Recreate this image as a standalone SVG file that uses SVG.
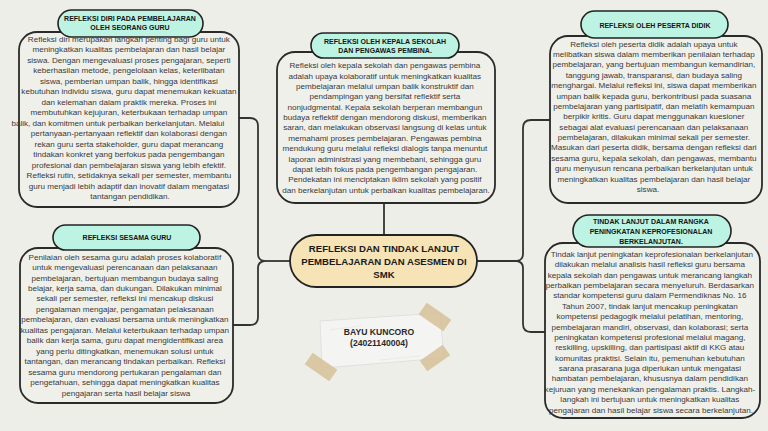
<svg xmlns="http://www.w3.org/2000/svg" width="768" height="431" viewBox="0 0 768 431">
<style>
.bg{fill:#eeeee9}
.box{fill:#f0f0eb;stroke:#2a2a2a;stroke-width:1.8}
.pill{fill:#bdf3e2;stroke:#222;stroke-width:1.6}
.main{fill:#f6e3b6;stroke:#222;stroke-width:1.8}
.conn{fill:none;stroke:#333;stroke-width:1.8;stroke-linejoin:round}
.t{font-family:"Liberation Sans",Arial,sans-serif;font-size:8.1px;fill:#383838;text-anchor:middle}
.h{font-family:"Liberation Sans",Arial,sans-serif;font-size:7px;font-weight:bold;fill:#151515;text-anchor:middle}
.mh{font-family:"Liberation Sans",Arial,sans-serif;font-size:9.6px;font-weight:bold;fill:#1a1a1a;text-anchor:middle}
.nm{font-family:"Liberation Sans",Arial,sans-serif;font-size:8.6px;font-weight:bold;fill:#2a2a2a;text-anchor:middle}
.tape{fill:#d6bf98;opacity:0.85}
</style>
<rect class="bg" x="0" y="0" width="768" height="431"/>

<g id="connectors">
<path class="conn" d="M384 203 V235"/>
<path class="conn" d="M239 118 H250 Q258 118 258 126 V254 Q258 260 264 261 Q258 262 258 268 V317 Q258 325 250 325 H233"/>
<path class="conn" d="M264 261 H290"/>
<path class="conn" d="M550 120 H531 Q523 120 523 128 V254 Q523 260 517 261 Q523 262 523 268 V324 Q523 332 531 332 H545"/>
<path class="conn" d="M477 261 H517"/>
</g>

<g id="node-diri">
<rect class="box" x="19" y="32" width="220" height="175" rx="18"/>
<rect class="pill" x="58" y="10" width="145" height="27" rx="13.5"/>
<text class="h"><tspan x="130" y="20.5">REFLEKSI DIRI PADA PEMBELAJARAN</tspan><tspan x="130" y="30">OLEH SEORANG GURU</tspan></text>
<text class="t">
<tspan x="130" y="42">Refleksi diri merupakan langkah penting bagi guru untuk</tspan>
<tspan x="130" dy="10.47">meningkatkan kualitas pembelajaran dan hasil belajar</tspan>
<tspan x="130" dy="10.47">siswa. Dengan mengevaluasi proses pengajaran, seperti</tspan>
<tspan x="130" dy="10.47">keberhasilan metode, pengelolaan kelas, keterlibatan</tspan>
<tspan x="130" dy="10.47">siswa, pemberian umpan balik, hingga identifikasi</tspan>
<tspan x="130" dy="10.47">kebutuhan individu siswa, guru dapat menemukan kekuatan</tspan>
<tspan x="130" dy="10.47">dan kelemahan dalam praktik mereka. Proses ini</tspan>
<tspan x="130" dy="10.47">membutuhkan kejujuran, keterbukaan terhadap umpan</tspan>
<tspan x="119" dy="10.47">balik, dan komitmen untuk perbaikan berkelanjutan. Melalui</tspan>
<tspan x="130" dy="10.47">pertanyaan-pertanyaan reflektif dan kolaborasi dengan</tspan>
<tspan x="130" dy="10.47">rekan guru serta stakeholder, guru dapat merancang</tspan>
<tspan x="130" dy="10.47">tindakan konkret yang berfokus pada pengembangan</tspan>
<tspan x="130" dy="10.47">profesional dan pembelajaran siswa yang lebih efektif.</tspan>
<tspan x="130" dy="10.47">Refleksi rutin, setidaknya sekali per semester, membantu</tspan>
<tspan x="130" dy="10.47">guru menjadi lebih adaptif dan inovatif dalam mengatasi</tspan>
<tspan x="130" dy="10.47">tantangan pendidikan.</tspan>
</text>
</g>

<g id="node-sesama">
<rect class="box" x="20" y="248" width="213" height="155" rx="18"/>
<rect class="pill" x="53" y="225" width="147" height="25" rx="12.5"/>
<text class="h"><tspan x="127" y="240">REFLEKSI SESAMA GURU</tspan></text>
<text class="t">
<tspan x="126" y="259.6">Penilaian oleh sesama guru adalah proses kolaboratif</tspan>
<tspan x="126" dy="10.46">untuk mengevaluasi perencanaan dan pelaksanaan</tspan>
<tspan x="126" dy="10.46">pembelajaran, bertujuan membangun budaya saling</tspan>
<tspan x="126" dy="10.46">belajar, kerja sama, dan dukungan. Dilakukan minimal</tspan>
<tspan x="126" dy="10.46">sekali per semester, refleksi ini mencakup diskusi</tspan>
<tspan x="126" dy="10.46">pengalaman mengajar, pengamatan pelaksanaan</tspan>
<tspan x="126" dy="10.46">pembelajaran, dan evaluasi bersama untuk meningkatkan</tspan>
<tspan x="126" dy="10.46">kualitas pengajaran. Melalui keterbukaan terhadap umpan</tspan>
<tspan x="126" dy="10.46">balik dan kerja sama, guru dapat mengidentifikasi area</tspan>
<tspan x="126" dy="10.46">yang perlu ditingkatkan, menemukan solusi untuk</tspan>
<tspan x="126" dy="10.46">tantangan, dan merancang tindakan perbaikan. Refleksi</tspan>
<tspan x="126" dy="10.46">sesama guru mendorong pertukaran pengalaman dan</tspan>
<tspan x="126" dy="10.46">pengetahuan, sehingga dapat meningkatkan kualitas</tspan>
<tspan x="126" dy="10.46">pengajaran serta hasil belajar siswa</tspan>
</text>
</g>

<g id="node-kepsek">
<rect class="box" x="277" y="52" width="218" height="151" rx="18"/>
<rect class="pill" x="311" y="33" width="148" height="25" rx="12.5"/>
<text class="h"><tspan x="385" y="43.5">REFLEKSI OLEH KEPALA SEKOLAH</tspan><tspan x="385" y="52.5">DAN PENGAWAS PEMBINA.</tspan></text>
<text class="t">
<tspan x="386" y="68.3">Refleksi oleh kepala sekolah dan pengawas pembina</tspan>
<tspan x="386" dy="10.36">adalah upaya kolaboratif untuk meningkatkan kualitas</tspan>
<tspan x="386" dy="10.36">pembelajaran melalui umpan balik konstruktif dan</tspan>
<tspan x="386" dy="10.36">pendampingan yang bersifat reflektif serta</tspan>
<tspan x="386" dy="10.36">nonjudgmental. Kepala sekolah berperan membangun</tspan>
<tspan x="386" dy="10.36">budaya reflektif dengan mendorong diskusi, memberikan</tspan>
<tspan x="386" dy="10.36">saran, dan melakukan observasi langsung di kelas untuk</tspan>
<tspan x="386" dy="10.36">memahami proses pembelajaran. Pengawas pembina</tspan>
<tspan x="386" dy="10.36">mendukung guru melalui refleksi dialogis tanpa menuntut</tspan>
<tspan x="386" dy="10.36">laporan administrasi yang membebani, sehingga guru</tspan>
<tspan x="386" dy="10.36">dapat lebih fokus pada pengembangan pengajaran.</tspan>
<tspan x="386" dy="10.36">Pendekatan ini menciptakan iklim sekolah yang positif</tspan>
<tspan x="386" dy="10.36">dan berkelanjutan untuk perbaikan kualitas pembelajaran.</tspan>
</text>
</g>

<g id="node-peserta">
<rect class="box" x="550" y="36" width="212" height="167" rx="18"/>
<rect class="pill" x="581" y="11" width="147" height="27" rx="13.5"/>
<text class="h"><tspan x="655" y="27.5">REFLEKSI OLEH PESERTA DIDIK</tspan></text>
<text class="t">
<tspan x="655" y="46.6">Refleksi oleh peserta didik adalah upaya untuk</tspan>
<tspan x="655" dy="10.38">melibatkan siswa dalam memberikan penilaian terhadap</tspan>
<tspan x="655" dy="10.38">pembelajaran, yang bertujuan membangun kemandirian,</tspan>
<tspan x="655" dy="10.38">tanggung jawab, transparansi, dan budaya saling</tspan>
<tspan x="655" dy="10.38">menghargai. Melalui refleksi ini, siswa dapat memberikan</tspan>
<tspan x="655" dy="10.38">umpan balik kepada guru, berkontribusi pada suasana</tspan>
<tspan x="655" dy="10.38">pembelajaran yang partisipatif, dan melatih kemampuan</tspan>
<tspan x="655" dy="10.38">berpikir kritis. Guru dapat menggunakan kuesioner</tspan>
<tspan x="655" dy="10.38">sebagai alat evaluasi perencanaan dan pelaksanaan</tspan>
<tspan x="655" dy="10.38">pembelajaran, dilakukan minimal sekali per semester.</tspan>
<tspan x="655" dy="10.38">Masukan dari peserta didik, bersama dengan refleksi dari</tspan>
<tspan x="655" dy="10.38">sesama guru, kepala sekolah, dan pengawas, membantu</tspan>
<tspan x="655" dy="10.38">guru menyusun rencana perbaikan berkelanjutan untuk</tspan>
<tspan x="655" dy="10.38">meningkatkan kualitas pembelajaran dan hasil belajar</tspan>
<tspan x="648" dy="10.38">siswa.</tspan>
</text>
</g>

<g id="node-tindaklanjut">
<rect class="box" x="545" y="243" width="215" height="175" rx="18"/>
<rect class="pill" x="573" y="215" width="158" height="32" rx="16"/>
<text class="h"><tspan x="651" y="224">TINDAK LANJUT DALAM RANGKA</tspan><tspan x="651" y="234">PENINGKATAN KEPROFESIONALAN</tspan><tspan x="651" y="244">BERKELANJUTAN.</tspan></text>
<text class="t">
<tspan x="653" y="256.9">Tindak lanjut peningkatan keprofesionalan berkelanjutan</tspan>
<tspan x="651" dy="10.38">dilakukan melalui analisis hasil refleksi guru bersama</tspan>
<tspan x="651" dy="10.38">kepala sekolah dan pengawas untuk merancang langkah</tspan>
<tspan x="651" dy="10.38">perbaikan pembelajaran secara menyeluruh. Berdasarkan</tspan>
<tspan x="651" dy="10.38">standar kompetensi guru dalam Permendiknas No. 16</tspan>
<tspan x="651" dy="10.38">Tahun 2007, tindak lanjut mencakup peningkatan</tspan>
<tspan x="651" dy="10.38">kompetensi pedagogik melalui pelatihan, mentoring,</tspan>
<tspan x="651" dy="10.38">pembelajaran mandiri, observasi, dan kolaborasi; serta</tspan>
<tspan x="651" dy="10.38">peningkatan kompetensi profesional melalui magang,</tspan>
<tspan x="651" dy="10.38">reskilling, upskilling, dan partisipasi aktif di KKG atau</tspan>
<tspan x="651" dy="10.38">komunitas praktisi. Selain itu, pemenuhan kebutuhan</tspan>
<tspan x="651" dy="10.38">sarana prasarana juga diperlukan untuk mengatasi</tspan>
<tspan x="651" dy="10.38">hambatan pembelajaran, khususnya dalam pendidikan</tspan>
<tspan x="651" dy="10.38">kejuruan yang menekankan pengalaman praktis. Langkah-</tspan>
<tspan x="651" dy="10.38">langkah ini bertujuan untuk meningkatkan kualitas</tspan>
<tspan x="651" dy="10.38">pengajaran dan hasil belajar siswa secara berkelanjutan.</tspan>
</text>
</g>

<g id="node-main">
<rect class="main" x="290" y="235" width="187" height="52" rx="26"/>
<text class="mh"><tspan x="384" y="251.5">REFLEKSI DAN TINDAK LANJUT</tspan><tspan x="384" y="264.5">PEMBELAJARAN DAN ASESMEN DI</tspan><tspan x="384" y="277.5">SMK</tspan></text>
</g>

<g id="node-nama">
<polygon points="320,321 440,313 444,358 322,368" fill="#f4f4f2" stroke="#dcdcd8" stroke-width="0.8"/>
<path d="M330 330 L360 326 M380 360 L420 356" stroke="#e2e2de" stroke-width="0.6" fill="none"/>
<rect class="tape" x="-15" y="-7" width="30" height="14" transform="translate(435 317) rotate(35)"/>
<rect class="tape" x="-14" y="-6.5" width="28" height="13" transform="translate(435 358) rotate(-35)"/>
<rect class="tape" x="-15" y="-7" width="30" height="14" transform="translate(321 367) rotate(35)"/>
<text class="nm"><tspan x="379" y="334.5">BAYU KUNCORO</tspan><tspan x="379" y="345.5">(24021140004)</tspan></text>
</g>
</svg>
